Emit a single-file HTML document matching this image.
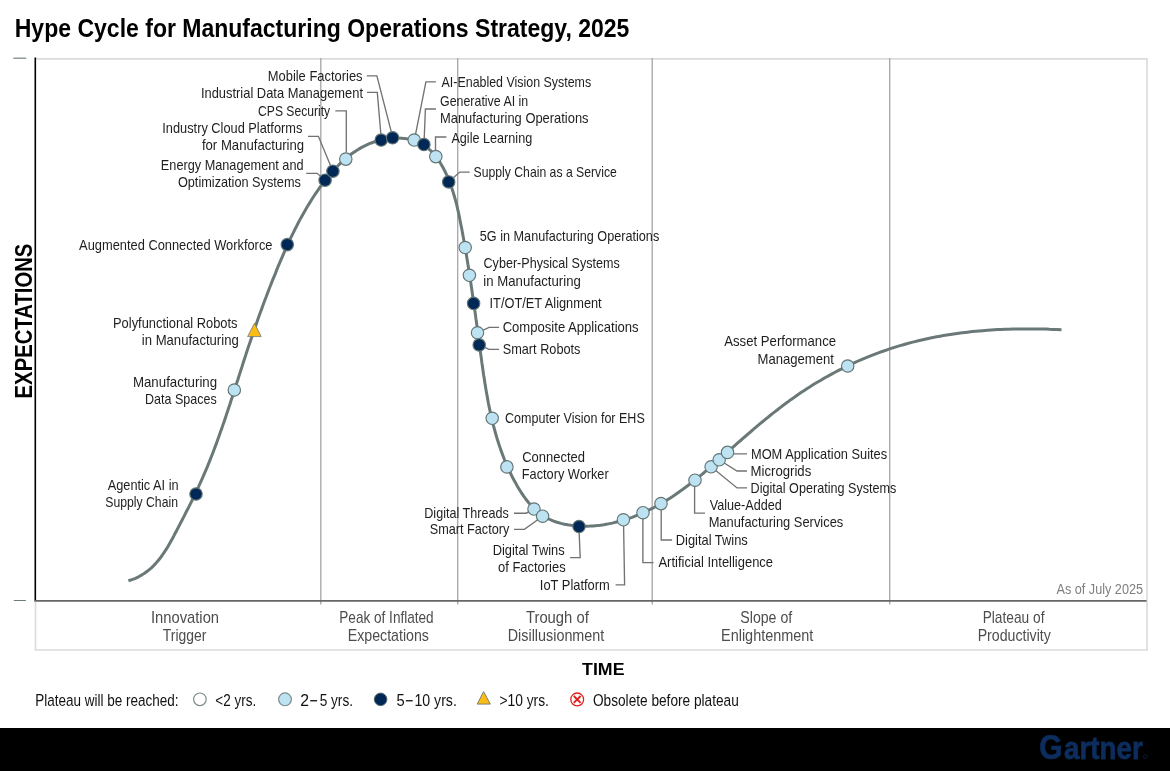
<!DOCTYPE html>
<html><head><meta charset="utf-8"><style>
html,body{margin:0;padding:0;background:#fff;}
svg{display:block;font-family:"Liberation Sans", sans-serif;will-change:transform;}
</style></head><body>
<svg width="1170" height="771" viewBox="0 0 1170 771">
<rect x="0" y="0" width="1170" height="771" fill="#fff"/>
<path d="M36 58.9 H1147 V650 H35.5 V601" fill="none" stroke="#dcdcdc" stroke-width="1.7"/>
<line x1="320.8" y1="58" x2="320.8" y2="604.6" stroke="#a5a5a5" stroke-width="1.3"/>
<line x1="457.7" y1="58" x2="457.7" y2="604.6" stroke="#a5a5a5" stroke-width="1.3"/>
<line x1="652.2" y1="58" x2="652.2" y2="604.6" stroke="#a5a5a5" stroke-width="1.3"/>
<line x1="889.7" y1="58" x2="889.7" y2="604.6" stroke="#a5a5a5" stroke-width="1.3"/>
<line x1="35.3" y1="57.5" x2="35.3" y2="601" stroke="#000" stroke-width="1.6"/>
<line x1="34.5" y1="600.8" x2="1146.5" y2="600.8" stroke="#666" stroke-width="1.8"/>
<line x1="13.3" y1="58.2" x2="26.2" y2="58.2" stroke="#7d8a8a" stroke-width="1.3"/>
<line x1="13.8" y1="600.5" x2="25.9" y2="600.5" stroke="#6d7b7b" stroke-width="1"/>
<path d="M128.4 580.7 L132.0 579.6 L135.4 578.3 L138.6 576.8 L141.6 575.1 L144.5 573.3 L147.2 571.3 L151.1 568.1 L153.5 565.8 L155.8 563.4 L158.0 560.8 L160.1 558.2 L162.1 555.5 L164.0 552.7 L166.8 548.4 L168.5 545.4 L170.2 542.4 L171.9 539.4 L173.6 536.4 L175.2 533.3 L176.8 530.2 L179.2 525.6 L180.8 522.5 L182.4 519.5 L184.0 516.4 L185.5 513.3 L187.1 510.2 L188.7 507.2 L191.0 502.6 L192.5 499.5 L194.0 496.4 L195.5 493.3 L196.9 490.2 L198.4 487.1 L199.8 484.0 L201.9 479.3 L203.3 476.2 L204.6 473.1 L206.0 469.9 L207.3 466.8 L208.6 463.6 L209.9 460.4 L211.7 455.7 L213.0 452.5 L214.2 449.3 L215.4 446.1 L216.6 442.9 L217.7 439.7 L218.9 436.4 L220.6 431.6 L221.8 428.4 L222.9 425.1 L224.0 421.9 L225.1 418.7 L226.2 415.4 L227.8 410.5 L228.9 407.3 L230.0 404.0 L231.0 400.7 L232.1 397.5 L233.1 394.2 L234.2 390.9 L235.8 386.0 L236.8 382.8 L237.9 379.5 L238.9 376.2 L240.0 372.9 L241.0 369.7 L242.1 366.4 L243.6 361.5 L244.7 358.2 L245.8 354.9 L246.8 351.7 L247.9 348.4 L249.0 345.1 L250.1 341.9 L251.8 337.0 L252.9 333.7 L254.0 330.5 L255.1 327.2 L256.3 324.0 L257.4 320.7 L258.5 317.5 L260.3 312.6 L261.5 309.4 L262.6 306.2 L263.8 303.0 L265.0 299.7 L266.3 296.5 L267.5 293.3 L269.3 288.5 L270.6 285.3 L271.8 282.1 L273.1 278.9 L274.4 275.8 L275.7 272.6 L276.9 269.4 L278.9 264.7 L280.2 261.6 L281.6 258.4 L282.9 255.3 L284.3 252.1 L285.7 249.0 L287.1 245.9 L289.2 241.3 L290.6 238.2 L292.1 235.1 L293.6 232.1 L295.1 229.0 L296.7 226.0 L299.0 221.4 L300.6 218.4 L302.3 215.4 L304.0 212.4 L305.7 209.5 L307.4 206.5 L309.2 203.6 L311.9 199.2 L313.8 196.3 L315.7 193.4 L317.7 190.6 L319.7 187.7 L321.7 184.9 L323.8 182.1 L327.1 178.0 L329.3 175.3 L331.5 172.6 L333.9 170.0 L336.2 167.5 L338.7 165.0 L341.1 162.6 L345.0 159.2 L347.6 157.0 L350.3 154.8 L353.1 152.8 L355.9 150.9 L358.8 149.1 L361.7 147.4 L366.3 145.1 L369.4 143.7 L372.6 142.5 L375.8 141.4 L379.2 140.4 L382.5 139.6 L385.9 139.0 L391.1 138.3 L394.6 138.1 L398.0 138.0 L401.4 138.2 L404.8 138.5 L408.1 139.0 L411.3 139.7 L416.0 141.2 L419.0 142.5 L421.9 144.0 L424.7 145.7 L427.3 147.7 L429.8 149.8 L433.3 153.4 L435.5 156.0 L437.6 158.8 L439.6 161.7 L441.4 164.7 L443.1 167.8 L444.8 171.0 L447.1 175.8 L448.5 179.1 L449.8 182.4 L451.0 185.7 L452.1 189.0 L453.2 192.4 L454.2 195.7 L455.6 200.7 L456.5 204.0 L457.3 207.3 L458.0 210.7 L458.8 214.0 L459.5 217.4 L460.1 220.7 L461.1 225.7 L461.8 229.1 L462.4 232.4 L463.0 235.8 L463.6 239.1 L464.2 242.5 L464.8 245.8 L465.7 250.9 L466.3 254.2 L466.8 257.6 L467.4 261.0 L467.9 264.3 L468.5 267.7 L469.0 271.1 L469.8 276.2 L470.3 279.5 L470.8 282.9 L471.3 286.3 L471.8 289.7 L472.3 293.1 L472.8 296.5 L473.6 301.5 L474.0 304.9 L474.5 308.3 L475.0 311.7 L475.5 315.1 L475.9 318.5 L476.4 321.9 L477.1 327.0 L477.6 330.5 L478.0 333.9 L478.5 337.3 L478.9 340.7 L479.4 344.1 L480.1 349.2 L480.5 352.6 L481.0 356.1 L481.5 359.5 L481.9 362.9 L482.4 366.3 L482.9 369.7 L483.6 374.9 L484.2 378.3 L484.7 381.7 L485.2 385.1 L485.8 388.5 L486.4 391.9 L487.0 395.3 L487.9 400.3 L488.5 403.7 L489.2 407.1 L489.9 410.4 L490.6 413.8 L491.4 417.1 L492.2 420.4 L493.4 425.4 L494.3 428.7 L495.2 432.0 L496.1 435.3 L497.1 438.6 L498.1 441.8 L499.2 445.1 L500.8 449.9 L502.0 453.1 L503.2 456.3 L504.4 459.5 L505.7 462.7 L507.1 465.8 L508.5 469.0 L510.7 473.6 L512.2 476.7 L513.8 479.8 L515.5 482.8 L517.2 485.9 L519.0 488.9 L520.8 491.8 L523.7 496.2 L525.7 499.0 L527.9 501.7 L530.1 504.4 L532.4 506.9 L534.7 509.3 L537.2 511.5 L541.2 514.6 L544.0 516.4 L546.9 518.1 L549.9 519.5 L553.0 520.9 L556.2 522.0 L561.0 523.4 L564.4 524.2 L567.8 524.8 L571.2 525.3 L574.6 525.7 L578.1 526.0 L581.5 526.1 L586.7 526.2 L590.1 526.1 L593.5 525.9 L597.0 525.6 L600.4 525.2 L603.8 524.7 L607.2 524.1 L612.2 523.1 L615.6 522.3 L618.9 521.5 L622.2 520.5 L625.5 519.5 L628.8 518.4 L632.1 517.3 L636.9 515.4 L640.1 514.1 L643.3 512.7 L646.5 511.2 L649.6 509.7 L652.7 508.2 L655.7 506.5 L660.2 504.0 L663.2 502.3 L666.2 500.5 L669.1 498.7 L671.9 496.9 L674.8 495.0 L677.6 493.0 L681.8 490.1 L684.5 488.0 L687.3 486.0 L690.0 483.9 L692.7 481.8 L695.3 479.7 L698.0 477.5 L702.0 474.3 L704.6 472.1 L707.2 469.9 L709.8 467.7 L712.4 465.4 L714.9 463.2 L718.8 459.8 L721.4 457.5 L723.9 455.2 L726.5 453.0 L729.1 450.7 L731.6 448.4 L734.2 446.1 L738.0 442.7 L740.6 440.5 L743.2 438.2 L745.8 436.0 L748.4 433.7 L751.0 431.5 L753.6 429.2 L757.5 425.9 L760.1 423.7 L762.8 421.5 L765.4 419.3 L768.1 417.2 L770.7 415.0 L773.4 412.9 L777.5 409.7 L780.2 407.6 L782.9 405.5 L785.6 403.5 L788.4 401.5 L791.2 399.4 L794.0 397.5 L798.2 394.5 L801.0 392.6 L803.9 390.7 L806.8 388.8 L809.7 387.0 L812.6 385.1 L815.5 383.3 L820.0 380.7 L822.9 378.9 L825.9 377.2 L828.9 375.6 L832.0 373.9 L835.0 372.3 L838.1 370.7 L842.7 368.3 L845.8 366.8 L848.9 365.3 L852.0 363.9 L855.1 362.4 L858.2 361.0 L861.4 359.6 L866.2 357.6 L869.3 356.4 L872.5 355.1 L875.7 353.9 L879.0 352.7 L882.2 351.5 L887.1 349.8 L890.3 348.7 L893.6 347.6 L896.8 346.6 L900.1 345.6 L903.4 344.7 L906.7 343.8 L911.7 342.4 L915.0 341.6 L918.3 340.8 L921.6 340.0 L925.0 339.2 L928.3 338.5 L931.7 337.8 L936.7 336.8 L940.1 336.2 L943.4 335.6 L946.8 335.0 L950.2 334.5 L953.6 334.0 L957.0 333.5 L962.1 332.8 L965.5 332.4 L968.9 332.0 L972.3 331.6 L975.7 331.3 L979.1 331.0 L982.5 330.7 L987.7 330.3 L991.1 330.0 L994.5 329.8 L998.0 329.6 L1001.4 329.4 L1004.8 329.3 L1008.3 329.2 L1013.4 329.0 L1016.8 329.0 L1020.3 328.9 L1023.7 328.9 L1027.2 328.9 L1030.6 328.9 L1034.0 328.9 L1039.2 329.0 L1042.6 329.1 L1046.1 329.1 L1049.5 329.3 L1052.9 329.4 L1056.4 329.5 L1061.5 329.8" fill="none" stroke="#6b7878" stroke-width="3" stroke-linejoin="round"/>
<path d="M366.8 75.8 L376.9 75.8 L391.3 131.8" fill="none" stroke="#727272" stroke-width="1.35"/>
<path d="M367 92.4 L377.3 92.4 L380.8 133.5" fill="none" stroke="#727272" stroke-width="1.35"/>
<path d="M335.3 110.8 L346.3 110.8 L346.3 152.4" fill="none" stroke="#727272" stroke-width="1.35"/>
<path d="M308 136.3 L318.4 136.3 L332.9 171.2" fill="none" stroke="#727272" stroke-width="1.35"/>
<path d="M306.2 173.3 L317.2 173.3 L325.1 180.2" fill="none" stroke="#727272" stroke-width="1.35"/>
<path d="M435.9 81.9 L425.9 81.9 L414.5 139.7" fill="none" stroke="#727272" stroke-width="1.35"/>
<path d="M435.9 109 L425.4 109 L424 144" fill="none" stroke="#727272" stroke-width="1.35"/>
<path d="M446.4 137 L435.5 137 L435.5 156" fill="none" stroke="#727272" stroke-width="1.35"/>
<path d="M469.7 172.1 L459.8 172.1 L448.8 181.8" fill="none" stroke="#727272" stroke-width="1.35"/>
<path d="M499.1 327.3 L489 327.3 L477.5 332.8" fill="none" stroke="#727272" stroke-width="1.35"/>
<path d="M499.1 349.4 L489 349.4 L479.2 344.9" fill="none" stroke="#727272" stroke-width="1.35"/>
<path d="M514 513.2 L526.2 513.2 L533.8 509.1" fill="none" stroke="#727272" stroke-width="1.35"/>
<path d="M514 529.4 L524.4 529.4 L542.6 516.2" fill="none" stroke="#727272" stroke-width="1.35"/>
<path d="M570.1 557.6 L580.2 557.6 L578.9 526.6" fill="none" stroke="#727272" stroke-width="1.35"/>
<path d="M615.6 584.9 L624.6 584.9 L623.5 519.7" fill="none" stroke="#727272" stroke-width="1.35"/>
<path d="M642.9 512.8 L642.9 562.6 L653.6 562.6" fill="none" stroke="#727272" stroke-width="1.35"/>
<path d="M661.2 503.9 L661.2 540 L672.1 540" fill="none" stroke="#727272" stroke-width="1.35"/>
<path d="M694.6 480.4 L694.6 513.1 L705 513.1" fill="none" stroke="#727272" stroke-width="1.35"/>
<path d="M711.2 466.7 L737 487.9 L747 487.9" fill="none" stroke="#727272" stroke-width="1.35"/>
<path d="M719.1 459.7 L737 471 L747 471" fill="none" stroke="#727272" stroke-width="1.35"/>
<path d="M727.6 452.3 L734.2 453.9 L747 453.9" fill="none" stroke="#727272" stroke-width="1.35"/>
<circle cx="196" cy="494" r="6.2" fill="#002856" stroke="#647474" stroke-width="1.15"/>
<circle cx="234.3" cy="390" r="6.2" fill="#bde3f3" stroke="#647474" stroke-width="1.15"/>
<circle cx="287.3" cy="244.6" r="6.2" fill="#002856" stroke="#647474" stroke-width="1.15"/>
<circle cx="325.1" cy="180.2" r="6.2" fill="#002856" stroke="#647474" stroke-width="1.15"/>
<circle cx="332.9" cy="171.2" r="6.2" fill="#002856" stroke="#647474" stroke-width="1.15"/>
<circle cx="345.8" cy="159.1" r="6.2" fill="#bde3f3" stroke="#647474" stroke-width="1.15"/>
<circle cx="381.2" cy="140" r="6.2" fill="#002856" stroke="#647474" stroke-width="1.15"/>
<circle cx="392.6" cy="137.8" r="6.2" fill="#002856" stroke="#647474" stroke-width="1.15"/>
<circle cx="414.2" cy="140" r="6.2" fill="#bde3f3" stroke="#647474" stroke-width="1.15"/>
<circle cx="423.9" cy="144.5" r="6.2" fill="#002856" stroke="#647474" stroke-width="1.15"/>
<circle cx="435.8" cy="156.6" r="6.2" fill="#bde3f3" stroke="#647474" stroke-width="1.15"/>
<circle cx="448.7" cy="181.9" r="6.2" fill="#002856" stroke="#647474" stroke-width="1.15"/>
<circle cx="465.2" cy="247.5" r="6.2" fill="#bde3f3" stroke="#647474" stroke-width="1.15"/>
<circle cx="469.4" cy="275.3" r="6.2" fill="#bde3f3" stroke="#647474" stroke-width="1.15"/>
<circle cx="473.6" cy="303.4" r="6.2" fill="#002856" stroke="#647474" stroke-width="1.15"/>
<circle cx="477.5" cy="332.8" r="6.2" fill="#bde3f3" stroke="#647474" stroke-width="1.15"/>
<circle cx="479.2" cy="344.9" r="6.2" fill="#002856" stroke="#647474" stroke-width="1.15"/>
<circle cx="492.2" cy="418.3" r="6.2" fill="#bde3f3" stroke="#647474" stroke-width="1.15"/>
<circle cx="506.9" cy="466.9" r="6.2" fill="#bde3f3" stroke="#647474" stroke-width="1.15"/>
<circle cx="534" cy="509" r="6.2" fill="#bde3f3" stroke="#647474" stroke-width="1.15"/>
<circle cx="542.6" cy="516.2" r="6.2" fill="#bde3f3" stroke="#647474" stroke-width="1.15"/>
<circle cx="579" cy="526.5" r="6.2" fill="#002856" stroke="#647474" stroke-width="1.15"/>
<circle cx="623.4" cy="519.8" r="6.2" fill="#bde3f3" stroke="#647474" stroke-width="1.15"/>
<circle cx="643" cy="512.7" r="6.2" fill="#bde3f3" stroke="#647474" stroke-width="1.15"/>
<circle cx="661" cy="503.6" r="6.2" fill="#bde3f3" stroke="#647474" stroke-width="1.15"/>
<circle cx="695" cy="480.2" r="6.2" fill="#bde3f3" stroke="#647474" stroke-width="1.15"/>
<circle cx="711.1" cy="466.8" r="6.2" fill="#bde3f3" stroke="#647474" stroke-width="1.15"/>
<circle cx="719.2" cy="459.8" r="6.2" fill="#bde3f3" stroke="#647474" stroke-width="1.15"/>
<circle cx="727.5" cy="452.4" r="6.2" fill="#bde3f3" stroke="#647474" stroke-width="1.15"/>
<circle cx="847.7" cy="366" r="6.2" fill="#bde3f3" stroke="#647474" stroke-width="1.15"/>
<path d="M254.5 323.2 L261.2 336.6 L247.6 336.6 Z" fill="#fbbd13" stroke="#6b7878" stroke-width="0.8"/>
<text x="267.74" y="80.70" font-size="14.4" fill="#1e1e1e" textLength="94.83" lengthAdjust="spacingAndGlyphs">Mobile Factories</text>
<text x="200.91" y="97.60" font-size="14.4" fill="#1e1e1e" textLength="162.09" lengthAdjust="spacingAndGlyphs">Industrial Data Management</text>
<text x="258.08" y="115.50" font-size="14.4" fill="#1e1e1e" textLength="72.04" lengthAdjust="spacingAndGlyphs">CPS Security</text>
<text x="162.32" y="133.00" font-size="14.4" fill="#1e1e1e" textLength="140.04" lengthAdjust="spacingAndGlyphs">Industry Cloud Platforms</text>
<text x="201.91" y="149.90" font-size="14.4" fill="#1e1e1e" textLength="102.23" lengthAdjust="spacingAndGlyphs">for Manufacturing</text>
<text x="160.86" y="170.00" font-size="14.4" fill="#1e1e1e" textLength="142.66" lengthAdjust="spacingAndGlyphs">Energy Management and</text>
<text x="177.90" y="187.00" font-size="14.4" fill="#1e1e1e" textLength="122.96" lengthAdjust="spacingAndGlyphs">Optimization Systems</text>
<text x="79.07" y="249.70" font-size="14.4" fill="#1e1e1e" textLength="193.40" lengthAdjust="spacingAndGlyphs">Augmented Connected Workforce</text>
<text x="113.04" y="328.00" font-size="14.4" fill="#1e1e1e" textLength="124.52" lengthAdjust="spacingAndGlyphs">Polyfunctional Robots</text>
<text x="141.82" y="345.00" font-size="14.4" fill="#1e1e1e" textLength="96.92" lengthAdjust="spacingAndGlyphs">in Manufacturing</text>
<text x="132.91" y="386.60" font-size="14.4" fill="#1e1e1e" textLength="84.25" lengthAdjust="spacingAndGlyphs">Manufacturing</text>
<text x="145.07" y="404.00" font-size="14.4" fill="#1e1e1e" textLength="71.68" lengthAdjust="spacingAndGlyphs">Data Spaces</text>
<text x="107.68" y="489.50" font-size="14.4" fill="#1e1e1e" textLength="70.95" lengthAdjust="spacingAndGlyphs">Agentic AI in</text>
<text x="105.24" y="506.60" font-size="14.4" fill="#1e1e1e" textLength="72.75" lengthAdjust="spacingAndGlyphs">Supply Chain</text>
<text x="441.58" y="86.60" font-size="14.4" fill="#1e1e1e" textLength="149.57" lengthAdjust="spacingAndGlyphs">AI-Enabled Vision Systems</text>
<text x="440.08" y="105.60" font-size="14.4" fill="#1e1e1e" textLength="88.12" lengthAdjust="spacingAndGlyphs">Generative AI in</text>
<text x="439.94" y="123.20" font-size="14.4" fill="#1e1e1e" textLength="148.63" lengthAdjust="spacingAndGlyphs">Manufacturing Operations</text>
<text x="451.38" y="143.00" font-size="14.4" fill="#1e1e1e" textLength="80.84" lengthAdjust="spacingAndGlyphs">Agile Learning</text>
<text x="473.55" y="177.00" font-size="14.4" fill="#1e1e1e" textLength="143.30" lengthAdjust="spacingAndGlyphs">Supply Chain as a Service</text>
<text x="479.79" y="240.60" font-size="14.4" fill="#1e1e1e" textLength="179.46" lengthAdjust="spacingAndGlyphs">5G in Manufacturing Operations</text>
<text x="483.56" y="268.20" font-size="14.4" fill="#1e1e1e" textLength="136.19" lengthAdjust="spacingAndGlyphs">Cyber-Physical Systems</text>
<text x="483.32" y="285.50" font-size="14.4" fill="#1e1e1e" textLength="97.53" lengthAdjust="spacingAndGlyphs">in Manufacturing</text>
<text x="489.53" y="307.50" font-size="14.4" fill="#1e1e1e" textLength="112.16" lengthAdjust="spacingAndGlyphs">IT/OT/ET Alignment</text>
<text x="502.64" y="332.00" font-size="14.4" fill="#1e1e1e" textLength="136.03" lengthAdjust="spacingAndGlyphs">Composite Applications</text>
<text x="502.72" y="354.30" font-size="14.4" fill="#1e1e1e" textLength="77.74" lengthAdjust="spacingAndGlyphs">Smart Robots</text>
<text x="505.06" y="423.00" font-size="14.4" fill="#1e1e1e" textLength="139.71" lengthAdjust="spacingAndGlyphs">Computer Vision for EHS</text>
<text x="522.14" y="461.50" font-size="14.4" fill="#1e1e1e" textLength="62.90" lengthAdjust="spacingAndGlyphs">Connected</text>
<text x="521.76" y="478.50" font-size="14.4" fill="#1e1e1e" textLength="86.95" lengthAdjust="spacingAndGlyphs">Factory Worker</text>
<text x="424.27" y="517.90" font-size="14.4" fill="#1e1e1e" textLength="84.59" lengthAdjust="spacingAndGlyphs">Digital Threads</text>
<text x="429.72" y="533.90" font-size="14.4" fill="#1e1e1e" textLength="79.60" lengthAdjust="spacingAndGlyphs">Smart Factory</text>
<text x="492.66" y="555.00" font-size="14.4" fill="#1e1e1e" textLength="72.00" lengthAdjust="spacingAndGlyphs">Digital Twins</text>
<text x="498.06" y="572.00" font-size="14.4" fill="#1e1e1e" textLength="67.61" lengthAdjust="spacingAndGlyphs">of Factories</text>
<text x="539.81" y="590.00" font-size="14.4" fill="#1e1e1e" textLength="70.03" lengthAdjust="spacingAndGlyphs">IoT Platform</text>
<text x="658.47" y="567.00" font-size="14.4" fill="#1e1e1e" textLength="114.60" lengthAdjust="spacingAndGlyphs">Artificial Intelligence</text>
<text x="675.76" y="544.70" font-size="14.4" fill="#1e1e1e" textLength="72.00" lengthAdjust="spacingAndGlyphs">Digital Twins</text>
<text x="709.65" y="509.80" font-size="14.4" fill="#1e1e1e" textLength="72.16" lengthAdjust="spacingAndGlyphs">Value-Added</text>
<text x="708.64" y="526.80" font-size="14.4" fill="#1e1e1e" textLength="134.62" lengthAdjust="spacingAndGlyphs">Manufacturing Services</text>
<text x="750.95" y="458.70" font-size="14.4" fill="#1e1e1e" textLength="136.21" lengthAdjust="spacingAndGlyphs">MOM Application Suites</text>
<text x="750.52" y="475.80" font-size="14.4" fill="#1e1e1e" textLength="60.76" lengthAdjust="spacingAndGlyphs">Microgrids</text>
<text x="750.57" y="492.60" font-size="14.4" fill="#1e1e1e" textLength="145.79" lengthAdjust="spacingAndGlyphs">Digital Operating Systems</text>
<text x="724.27" y="346.20" font-size="14.4" fill="#1e1e1e" textLength="111.81" lengthAdjust="spacingAndGlyphs">Asset Performance</text>
<text x="757.53" y="363.60" font-size="14.4" fill="#1e1e1e" textLength="76.47" lengthAdjust="spacingAndGlyphs">Management</text>
<text x="150.94" y="623.00" font-size="16.4" fill="#4d4d4d" textLength="68.12" lengthAdjust="spacingAndGlyphs">Innovation</text>
<text x="162.79" y="641.00" font-size="16.4" fill="#4d4d4d" textLength="43.64" lengthAdjust="spacingAndGlyphs">Trigger</text>
<text x="339.29" y="623.00" font-size="16.4" fill="#4d4d4d" textLength="94.39" lengthAdjust="spacingAndGlyphs">Peak of Inflated</text>
<text x="347.74" y="641.00" font-size="16.4" fill="#4d4d4d" textLength="81.18" lengthAdjust="spacingAndGlyphs">Expectations</text>
<text x="525.97" y="623.00" font-size="16.4" fill="#4d4d4d" textLength="62.81" lengthAdjust="spacingAndGlyphs">Trough of</text>
<text x="507.72" y="641.00" font-size="16.4" fill="#4d4d4d" textLength="96.58" lengthAdjust="spacingAndGlyphs">Disillusionment</text>
<text x="740.36" y="623.00" font-size="16.4" fill="#4d4d4d" textLength="51.82" lengthAdjust="spacingAndGlyphs">Slope of</text>
<text x="721.01" y="641.00" font-size="16.4" fill="#4d4d4d" textLength="92.39" lengthAdjust="spacingAndGlyphs">Enlightenment</text>
<text x="982.67" y="623.00" font-size="16.4" fill="#4d4d4d" textLength="61.81" lengthAdjust="spacingAndGlyphs">Plateau of</text>
<text x="977.64" y="641.00" font-size="16.4" fill="#4d4d4d" textLength="73.19" lengthAdjust="spacingAndGlyphs">Productivity</text>
<text x="1056.48" y="594.40" font-size="14" fill="#808080" textLength="86.56" lengthAdjust="spacingAndGlyphs">As of July 2025</text>
<text x="14.76" y="37.00" font-size="25" font-weight="bold" fill="#000" textLength="614.67" lengthAdjust="spacingAndGlyphs">Hype Cycle for Manufacturing Operations Strategy, 2025</text>
<text x="582.10" y="674.80" font-size="16.9" font-weight="bold" fill="#000" textLength="42.39" lengthAdjust="spacingAndGlyphs">TIME</text>
<g transform="translate(32.1 397.1) rotate(-90)"><text x="-1.33" y="0" font-size="23.5" font-weight="bold" fill="#000" textLength="154.81" lengthAdjust="spacingAndGlyphs">EXPECTATIONS</text></g>
<text x="35.19" y="706.00" font-size="16.3" fill="#111" textLength="143.34" lengthAdjust="spacingAndGlyphs">Plateau will be reached:</text>
<circle cx="199.9" cy="699.3" r="6.3" fill="#fff" stroke="#7d8b8b" stroke-width="1.2"/>
<text x="215.33" y="706.00" font-size="16.3" fill="#111" textLength="40.90" lengthAdjust="spacingAndGlyphs">&lt;2 yrs.</text>
<circle cx="285" cy="699.35" r="6.4" fill="#bde3f3" stroke="#7d8b8b" stroke-width="1.2"/>
<text x="300.31" y="706.00" font-size="16.3" fill="#111" textLength="8.79" lengthAdjust="spacingAndGlyphs">2</text>
<rect x="310.2" y="700.1" width="6.9" height="1.3" fill="#111"/>
<text x="319.65" y="706.00" font-size="16.3" fill="#111" textLength="33.39" lengthAdjust="spacingAndGlyphs">5 yrs.</text>
<circle cx="380.6" cy="699.35" r="6.3" fill="#002856" stroke="#5f6e6e" stroke-width="1"/>
<text x="396.41" y="706.00" font-size="16.3" fill="#111" textLength="8.21" lengthAdjust="spacingAndGlyphs">5</text>
<rect x="405.9" y="700.1" width="6.8" height="1.3" fill="#111"/>
<text x="414.42" y="706.00" font-size="16.3" fill="#111" textLength="42.47" lengthAdjust="spacingAndGlyphs">10 yrs.</text>
<path d="M483.6 691.6 L490.3 704.1 L477.2 704.1 Z" fill="#fbbd13" stroke="#6b7878" stroke-width="0.9"/>
<text x="499.42" y="706.00" font-size="16.3" fill="#111" textLength="49.54" lengthAdjust="spacingAndGlyphs">&gt;10 yrs.</text>
<circle cx="577.2" cy="699.4" r="6.4" fill="#fff" stroke="#e01e1e" stroke-width="1.3"/>
<path d="M573.8 696 L580.6 702.8 M580.6 696 L573.8 702.8" stroke="#e01e1e" stroke-width="1.9"/>
<text x="592.95" y="706.00" font-size="16.3" fill="#111" textLength="145.85" lengthAdjust="spacingAndGlyphs">Obsolete before plateau</text>
<rect x="0" y="728" width="1170" height="43" fill="#000"/>
<text x="1039.37" y="758.50" font-size="34.5" font-weight="bold" fill="#0c2d5d" textLength="23.28" lengthAdjust="spacingAndGlyphs" stroke="#0c2d5d" stroke-width="0.7">G</text>
<text x="1063.99" y="758.50" font-size="30.5" font-weight="bold" fill="#0c2d5d" textLength="78.73" lengthAdjust="spacingAndGlyphs" stroke="#0c2d5d" stroke-width="0.8">artner</text>
<circle cx="1145.2" cy="756.6" r="1.9" fill="none" stroke="#0c2d5d" stroke-width="0.6"/>
</svg>
</body></html>
